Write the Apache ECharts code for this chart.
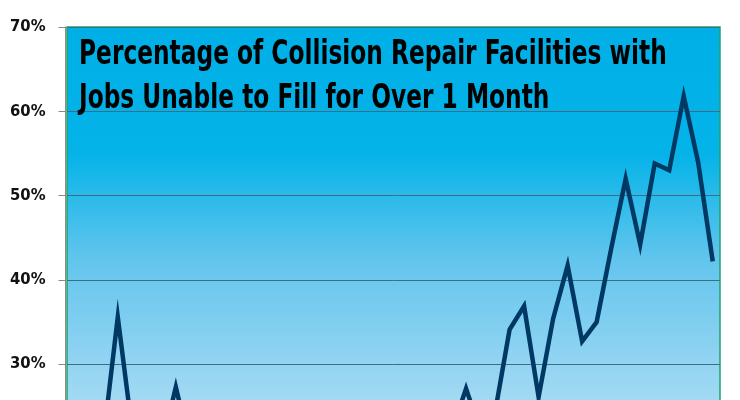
<!DOCTYPE html>
<html>
<head>
<meta charset="utf-8">
<script src="https://cdn.jsdelivr.net/npm/echarts@6/dist/echarts.min.js"></script>
<style>
html,body{margin:0;padding:0;background:#fff;}
#chart{width:740px;height:400px;}
</style>
</head>
<body>
<div id="chart"></div>
<script>
// Survey periods (x categories, not labelled in the picture)
var categories = [];
for (var i = 1; i <= 45; i++) { categories.push('P' + i); }

// Percentage of facilities with jobs unable to fill for over 1 month
var values = [
  22, 20, 21, 35.6, 22, 23, 20, 27.3, 20,
  21, 23, 19, 22, 24, 20, 18, 21, 23, 20, 22, 19, 21, 24, 22, 20, 23,
  22, 27.1, 22, 24.3, 34.1, 36.9, 26.1, 35.4, 41.7, 32.7, 35.0, 43.7,
  52.0, 44.2, 53.8, 53.0, 61.8, 53.9, 42.2
];

// Y-axis ticks
var yMin = 20, yMax = 70, yStep = 10;

var titleLines = [
  'Percentage of Collision Repair Facilities with',
  'Jobs Unable to Fill for Over 1 Month'
];

var FONT = '"DejaVu Sans Condensed", "Liberation Sans Narrow", "Roboto Condensed", sans-serif';
var TITLE_SCALE_X = 0.785;

var chart = echarts.init(document.getElementById('chart'), null, {renderer: 'canvas'});
chart.setOption({
  animation: false,
  backgroundColor: '#ffffff',
  graphic: [
    {
      type: 'text', x: 79, y: 55.5, scaleX: TITLE_SCALE_X, z: 100,
      style: {
        text: titleLines[0], fill: '#000000',
        font: 'bold 33px ' + FONT, verticalAlign: 'middle', align: 'left'
      }
    },
    {
      type: 'text', x: 79, y: 99.5, scaleX: TITLE_SCALE_X, z: 100,
      style: {
        text: titleLines[1], fill: '#000000',
        font: 'bold 33px ' + FONT, verticalAlign: 'middle', align: 'left'
      }
    }
  ],
  grid: {
    left: 67,
    width: 653,
    top: 27,
    height: 421.5,
    outerBoundsMode: 'none',
    containLabel: false,
    show: true,
    borderColor: '#1ea36a',
    borderWidth: 1.5,
    backgroundColor: new echarts.graphic.LinearGradient(0, 0, 0, 1, [
      {offset: 0, color: '#00afe6'},
      {offset: 0.3, color: '#04b3e8'},
      {offset: 0.55, color: '#62c5ed'},
      {offset: 0.8, color: '#93d4f2'},
      {offset: 0.89, color: '#a3daf3'},
      {offset: 1, color: '#b2e0f5'}
    ])
  },
  xAxis: {
    type: 'category',
    data: categories,
    boundaryGap: true,
    show: false
  },
  yAxis: {
    type: 'value',
    min: yMin,
    max: yMax,
    interval: yStep,
    offset: 1.5,
    axisLine: {show: true, lineStyle: {color: '#8a8a8a', width: 1}},
    axisTick: {show: true, length: 7, lineStyle: {color: '#8a8a8a', width: 1}},
    axisLabel: {
      formatter: '{value}%',
      margin: 20,
      fontFamily: FONT,
      fontWeight: 'bold',
      fontSize: 16.5,
      color: '#111111'
    },
    splitLine: {show: true, lineStyle: {color: '#3f6e82', width: 1}}
  },
  series: [{
    type: 'line',
    data: values,
    showSymbol: false,
    symbol: 'none',
    lineStyle: {color: '#003864', width: 4.5, join: 'miter'},
    z: 5
  }]
});
</script>
</body>
</html>
